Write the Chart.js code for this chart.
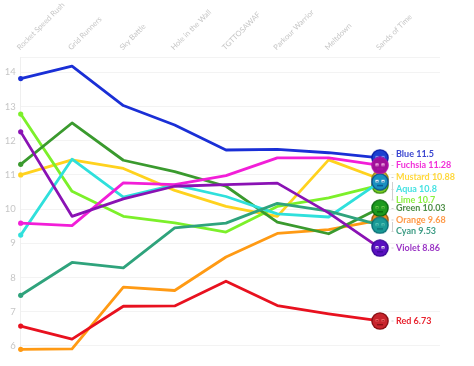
<!DOCTYPE html>
<html>
<head>
<meta charset="utf-8">
<style>
  html, body { margin: 0; padding: 0; background: #fff; }
  #wrap { width: 474px; height: 366px; }
</style>
<script src="https://cdn.jsdelivr.net/npm/chart.js@4/dist/chart.umd.min.js"></script>
</head>
<body>
<div id="wrap"><canvas id="chart" width="474" height="366"></canvas></div>
<script>
const levels = ['Rocket Speed Rush', 'Grid Runners', 'Sky Battle', 'Hole in the Wall', 'TGTTOSAWAF', 'Parkour Warrior', 'Meltdown', 'Sands of Time'];
const yTicks = [6, 7, 8, 9, 10, 11, 12, 13, 14];

const blue = [13.82, 14.18, 13.03, 12.46, 11.73, 11.75, 11.65, 11.5];
const fuchsia = [9.59, 9.52, 10.77, 10.72, 10.98, 11.5, 11.5, 11.28];
const mustard = [11.0, 11.44, 11.19, 10.55, 10.08, 9.79, 11.44, 10.88];
const aqua = [9.24, 11.46, 10.35, 10.71, 10.37, 9.86, 9.77, 10.8];
const lime = [12.78, 10.52, 9.79, 9.6, 9.33, 10.08, 10.33, 10.7];
const green = [11.31, 12.52, 11.43, 11.1, 10.67, 9.62, 9.28, 10.03];
const orange = [5.9, 5.91, 7.72, 7.62, 8.6, 9.29, 9.4, 9.68];
const cyan = [7.48, 8.44, 8.28, 9.45, 9.59, 10.17, 9.94, 9.53];
const violet = [12.26, 9.79, 10.3, 10.67, 10.72, 10.76, 9.89, 8.86];
const red = [6.58, 6.2, 7.16, 7.17, 7.89, 7.18, 6.94, 6.73];

// first one in the list ends up on top
const teams = [
  { name: 'Violet', values: violet, color: '#8a12b4', text: '#9a35c4', labelY: 248, skin: ['#3a0a98', '#5a10c0', '#ffffff'] },
  { name: 'Fuchsia', values: fuchsia, color: '#f21ed8', text: '#f22ed8', labelY: 165.5, skin: ['#b010a8', '#a01098', '#ffd0f0'] },
  { name: 'Red', values: red, color: '#e8111f', text: '#e8222e', labelY: 321, skin: ['#8a1014', '#c8242c', '#f06060'] },
  { name: 'Cyan', values: cyan, color: '#2fa37c', text: '#3f9d86', labelY: 231.5, skin: ['#0c7078', '#1a9a96', '#60d0c0'] },
  { name: 'Aqua', values: aqua, color: '#2fe0dc', text: '#45e2e2', labelY: 189.5, skin: ['#0c5090', '#1a90c0', '#ffffff'] },
  { name: 'Green', values: green, color: '#3a9a2e', text: '#4f8f48', labelY: 208.5, skin: ['#0c6a10', '#1e9a1e', '#70d050'] },
  { name: 'Lime', values: lime, color: '#7cf02a', text: '#8cf040', labelY: 200, skin: ['#3a8a10', '#7cd020', '#d0f080'] },
  { name: 'Orange', values: orange, color: '#ff9a14', text: '#ff9a48', labelY: 220, skin: ['#a05a10', '#f09020', '#ffd090'] },
  { name: 'Mustard', values: mustard, color: '#ffd21e', text: '#ffd83c', labelY: 177.5, skin: ['#a08a10', '#f0c820', '#fff0a0'] },
  { name: 'Blue', values: blue, color: '#1a2fd6', text: '#3a45d0', labelY: 154.5, skin: ['#0c20a8', '#1a40d0', '#80a0f0'] }
];

function makeBadge(skin) {
  const c = document.createElement('canvas');
  c.width = 18; c.height = 18;
  const g = c.getContext('2d');
  g.fillStyle = skin[0];
  g.beginPath(); g.arc(9, 9, 8.8, 0, Math.PI * 2); g.fill();
  g.fillStyle = skin[1];
  g.beginPath(); g.arc(9, 9, 7.4, 0, Math.PI * 2); g.fill();
  g.fillStyle = skin[2];
  g.fillRect(4.5, 7, 3, 2.5);
  g.fillRect(10.5, 7, 3, 2.5);
  g.fillStyle = skin[0];
  g.fillRect(5.5, 8, 1.2, 1.2);
  g.fillRect(11.5, 8, 1.2, 1.2);
  g.fillRect(6, 12, 6, 1.4);
  return c;
}

const badges = teams.map(t => makeBadge(t.skin));
const lastIdx = levels.length - 1;

const sideLabels = {
  id: 'sideLabels',
  afterDatasetsDraw(chart) {
    const ctx = chart.ctx;
    ctx.save();
    ctx.strokeStyle = '#cfcfcf';
    ctx.lineWidth = 1;
    ctx.beginPath();
    teams.forEach(t => { ctx.moveTo(391.5, t.labelY); ctx.lineTo(393.5, t.labelY); });
    ctx.moveTo(392.5, 182); ctx.lineTo(392.5, 200);
    ctx.moveTo(392.5, 222); ctx.lineTo(392.5, 231);
    ctx.stroke();
    ctx.font = 'bold 9px Lato';
    ctx.textBaseline = 'middle';
    ctx.textAlign = 'left';
    teams.forEach(t => {
      ctx.fillStyle = t.text;
      ctx.fillText(t.name + ' ' + t.values[lastIdx], 396, t.labelY);
    });
    ctx.restore();
  }
};

new Chart(document.getElementById('chart'), {
  type: 'line',
  data: {
    datasets: teams.map((t, n) => ({
      label: t.name,
      data: t.values.map((v, i) => ({ x: i, y: v })),
      borderColor: t.color,
      backgroundColor: t.color,
      borderWidth: 2.8,
      tension: 0,
      clip: false,
      borderJoinStyle: 'round',
      pointStyle: ctx => ctx.dataIndex === lastIdx ? badges[n] : 'circle',
      pointRadius: ctx => ctx.dataIndex === 0 ? 2.6 : ctx.dataIndex === lastIdx ? 9 : 0,
      pointBorderWidth: 0
    }))
  },
  options: {
    responsive: false,
    animation: false,
    layout: { padding: { left: 0, top: 0, right: 34, bottom: 16 } },
    plugins: { legend: { display: false }, tooltip: { enabled: false } },
    scales: {
      x: {
        type: 'linear',
        position: 'top',
        min: 0,
        max: 8.17,
        afterBuildTicks: s => { s.ticks = levels.map((_, i) => ({ value: i })); },
        afterFit: s => { s.height = 57; },
        grid: { display: false },
        border: { display: false },
        ticks: {
          autoSkip: false,
          minRotation: 45,
          maxRotation: 45,
          padding: -3,
          labelOffset: 4,
          color: '#c6c6c6',
          font: { family: 'Lato', size: 7.6 },
          callback: v => levels[v] || ''
        }
      },
      y: {
        min: 5.88,
        max: 14.45,
        afterBuildTicks: s => { s.ticks = yTicks.concat([14.45]).map(v => ({ value: v })); },
        afterFit: s => { s.width = 20.7; },
        grid: { color: '#f3f3f3', lineWidth: 1, drawTicks: false },
        border: { display: true, color: '#efefef' },
        ticks: {
          padding: 5,
          color: '#c6c6c6',
          font: { family: 'Lato', size: 9.5 },
          callback: v => yTicks.includes(v) ? String(v) : ''
        }
      }
    }
  },
  plugins: [sideLabels]
});
</script>
</body>
</html>
